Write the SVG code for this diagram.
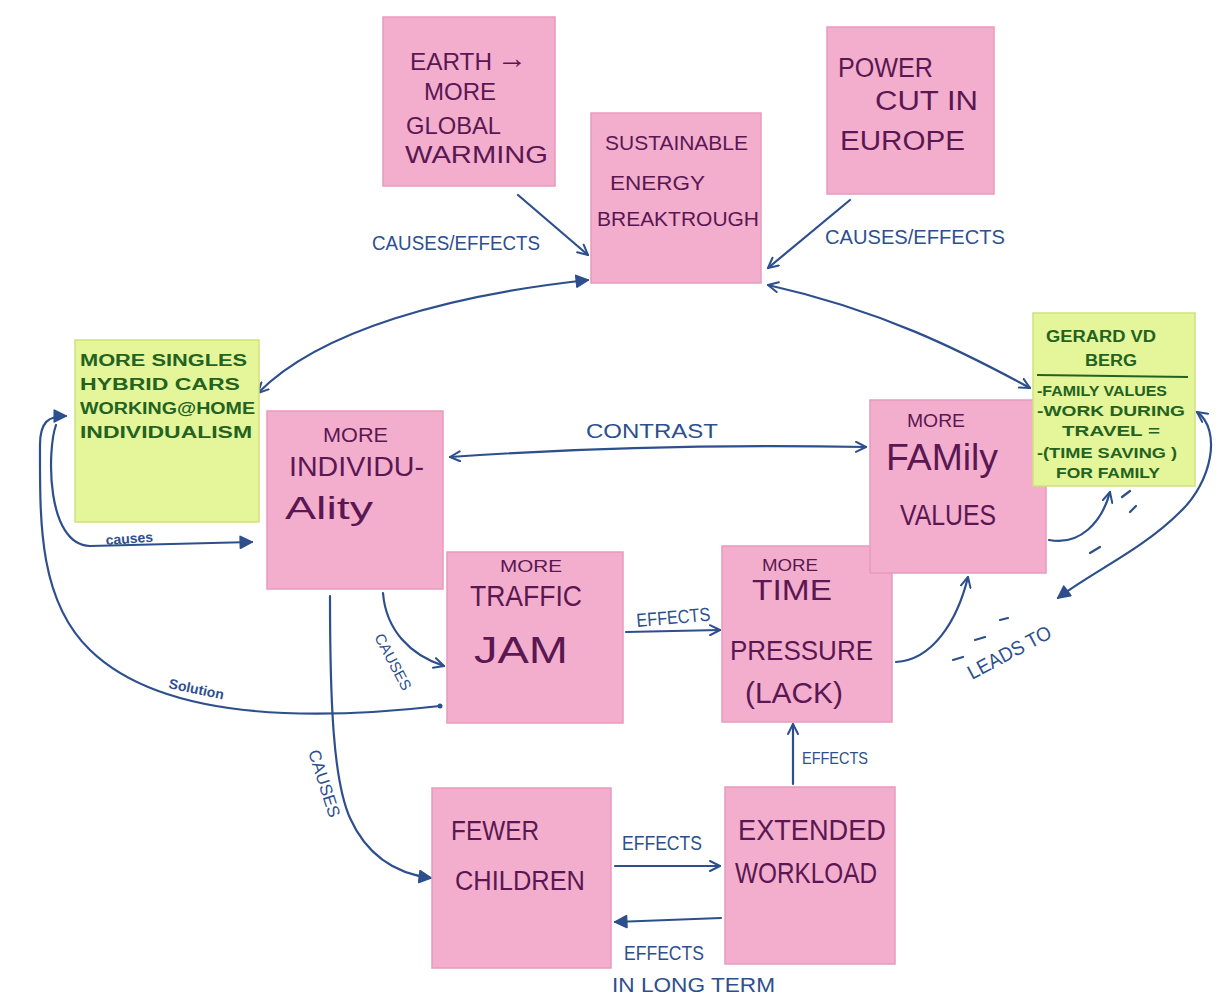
<svg xmlns="http://www.w3.org/2000/svg" width="1231" height="998" viewBox="0 0 1231 998">
<defs>
<style>
.pink{fill:#f3aecd;stroke:#e79bbd;stroke-width:1.5}
.green{fill:#e4f59a;stroke:#cfe27f;stroke-width:1.5}
.pt{font-family:"Liberation Sans",Arial,sans-serif;fill:#5a1752;}
.gt{font-family:"Liberation Sans",Arial,sans-serif;fill:#23621f;font-weight:bold}
.lb{font-family:"Liberation Sans",Arial,sans-serif;fill:#2d4f8e;}
.c{fill:none;stroke:#2d4f8e;stroke-width:2.2;stroke-linecap:round}
</style>
<marker id="ah" viewBox="0 0 12 12" refX="11" refY="6" markerWidth="12" markerHeight="12" markerUnits="userSpaceOnUse" orient="auto-start-reverse">
<path d="M1,1 L11,6 L1,11" fill="none" stroke="#2d4f8e" stroke-width="2" stroke-linecap="round" stroke-linejoin="round"/>
</marker>
<marker id="ahs" viewBox="0 0 12 12" refX="11" refY="6" markerWidth="14" markerHeight="14" markerUnits="userSpaceOnUse" orient="auto-start-reverse">
<path d="M1,1 L11,6 L1,11 Z" fill="#2d4f8e" stroke="#2d4f8e" stroke-width="1.5" stroke-linejoin="round"/>
</marker>
</defs>
<rect width="1231" height="998" fill="#ffffff"/>

<g id="connectors">
<path class="c" d="M518,195 L588,255" marker-end="url(#ah)"/>
<path class="c" d="M850,200 L768,268" marker-end="url(#ah)"/>
<path class="c" d="M258,393 C320,330 450,295 588,280" marker-start="url(#ah)" marker-end="url(#ahs)"/>
<path class="c" d="M768,285 C880,310 960,350 1030,388" stroke-width="1.6" marker-start="url(#ah)" marker-end="url(#ah)"/>
<path class="c" d="M450,457 C550,450 700,444 866,447" marker-start="url(#ah)" marker-end="url(#ah)"/>
<path class="c" d="M56,425 C47,450 46,545 90,546 L252,542" marker-end="url(#ahs)"/>
<path class="c" d="M440,706 C300,722 160,718 90,650 C38,600 40,520 40,445 C40,422 48,416 66,416" marker-end="url(#ahs)"/>
<circle cx="440" cy="706" r="2.5" fill="#2d4f8e"/>
<path class="c" d="M383,593 C386,630 410,655 444,666" marker-end="url(#ah)"/>
<path class="c" d="M330,596 C330,700 333,780 350,818 C368,858 398,874 431,878" marker-end="url(#ahs)"/>
<path class="c" d="M626,632 L720,630" marker-end="url(#ah)"/>
<path class="c" d="M896,662 C932,660 957,622 968,577" stroke-width="1.8" marker-end="url(#ah)"/>
<path class="c" d="M1049,540 C1080,546 1102,522 1110,492" stroke-width="1.8" marker-end="url(#ah)"/>
<path class="c" d="M1197,412 C1222,430 1212,482 1180,512 C1142,550 1092,572 1058,598" marker-start="url(#ah)" marker-end="url(#ahs)"/>
<path class="c" d="M793,784 L793,724" marker-end="url(#ah)"/>
<path class="c" d="M615,866 L720,866" marker-end="url(#ah)"/>
<path class="c" d="M721,918 L615,922" marker-end="url(#ahs)"/>
<g class="c" stroke-width="1.5">
<path d="M1122,497 l8,-6 M1130,512 l6,-6 M1090,553 l10,-6 M1000,620 l8,-2 M975,640 l10,-3 M953,660 l10,-3"/>
</g>
<text class="lb" x="372" y="250" font-size="20" textLength="168" lengthAdjust="spacingAndGlyphs">CAUSES/EFFECTS</text>
<text class="lb" x="825" y="244" font-size="20" textLength="180" lengthAdjust="spacingAndGlyphs">CAUSES/EFFECTS</text>
<text class="lb" x="586" y="438" font-size="20" textLength="132" lengthAdjust="spacingAndGlyphs">CONTRAST</text>
<text class="lb" x="106" y="545" font-size="14" font-weight="bold" transform="rotate(-4 106 545)">causes</text>
<text class="lb" x="168" y="688" font-size="14" font-weight="bold" transform="rotate(12 168 688)">Solution</text>
<text class="lb" x="374" y="637" font-size="15" transform="rotate(62 374 637)">CAUSES</text>
<text class="lb" x="308" y="752" font-size="17" transform="rotate(72 308 752)">CAUSES</text>
<text class="lb" x="637" y="627" font-size="19" textLength="74" lengthAdjust="spacingAndGlyphs" transform="rotate(-5 637 627)">EFFECTS</text>
<text class="lb" x="802" y="764" font-size="17" textLength="66" lengthAdjust="spacingAndGlyphs">EFFECTS</text>
<text class="lb" x="622" y="850" font-size="20" textLength="80" lengthAdjust="spacingAndGlyphs">EFFECTS</text>
<text class="lb" x="624" y="960" font-size="20" textLength="80" lengthAdjust="spacingAndGlyphs">EFFECTS</text>
<text class="lb" x="612" y="992" font-size="21" textLength="163" lengthAdjust="spacingAndGlyphs">IN LONG TERM</text>
<text class="lb" x="972" y="680" font-size="20" textLength="92" lengthAdjust="spacingAndGlyphs" transform="rotate(-28 972 680)">LEADS TO</text>
</g>

<g id="earth">
<rect class="pink" x="383" y="17" width="172" height="169"/>
<text class="pt" font-size="24"><tspan x="410" y="70" textLength="82" lengthAdjust="spacingAndGlyphs">EARTH</tspan><tspan x="497" y="68" font-size="30">→</tspan><tspan x="424" y="100">MORE</tspan><tspan x="406" y="134" textLength="95" lengthAdjust="spacingAndGlyphs">GLOBAL</tspan><tspan x="405" y="163" textLength="143" lengthAdjust="spacingAndGlyphs">WARMING</tspan></text>
</g>

<g id="sustainable">
<rect class="pink" x="591" y="113" width="170" height="170"/>
<text class="pt" font-size="21"><tspan x="605" y="150" textLength="143" lengthAdjust="spacingAndGlyphs">SUSTAINABLE</tspan><tspan x="610" y="190" textLength="95" lengthAdjust="spacingAndGlyphs">ENERGY</tspan><tspan x="597" y="226" textLength="162" lengthAdjust="spacingAndGlyphs">BREAKTROUGH</tspan></text>
</g>

<g id="powercut">
<rect class="pink" x="827" y="27" width="167" height="167"/>
<text class="pt" font-size="27"><tspan x="838" y="77" textLength="95" lengthAdjust="spacingAndGlyphs">POWER</tspan><tspan x="875" y="110" textLength="103" lengthAdjust="spacingAndGlyphs">CUT IN</tspan><tspan x="840" y="150" textLength="125" lengthAdjust="spacingAndGlyphs">EUROPE</tspan></text>
</g>

<g id="greenleft">
<rect class="green" x="75" y="340" width="184" height="182"/>
<text class="gt" font-size="16"><tspan x="80" y="366" textLength="167" lengthAdjust="spacingAndGlyphs">MORE SINGLES</tspan><tspan x="80" y="390" textLength="160" lengthAdjust="spacingAndGlyphs">HYBRID CARS</tspan><tspan x="80" y="414" textLength="175" lengthAdjust="spacingAndGlyphs">WORKING@HOME</tspan><tspan x="80" y="438" textLength="172" lengthAdjust="spacingAndGlyphs">INDIVIDUALISM</tspan></text>
</g>

<g id="individuality">
<rect class="pink" x="267" y="411" width="176" height="178"/>
<text class="pt" font-size="20" x="323" y="442" textLength="65" lengthAdjust="spacingAndGlyphs">MORE</text>
<text class="pt" font-size="27" x="289" y="476" textLength="135" lengthAdjust="spacingAndGlyphs">INDIVIDU-</text>
<text class="pt" font-size="32" x="285" y="519" textLength="88" lengthAdjust="spacingAndGlyphs">Ality</text>
</g>

<g id="traffic">
<rect class="pink" x="447" y="552" width="176" height="171"/>
<text class="pt" font-size="17" x="500" y="572" textLength="62" lengthAdjust="spacingAndGlyphs">MORE</text>
<text class="pt" font-size="30" x="470" y="606" textLength="112" lengthAdjust="spacingAndGlyphs">TRAFFIC</text>
<text class="pt" font-size="36" x="474" y="663" textLength="94" lengthAdjust="spacingAndGlyphs">JAM</text>
</g>

<g id="timepressure">
<rect class="pink" x="722" y="546" width="170" height="176"/>
<text class="pt" font-size="17" x="762" y="571" textLength="56" lengthAdjust="spacingAndGlyphs">MORE</text>
<text class="pt" font-size="30" x="752" y="600" textLength="80" lengthAdjust="spacingAndGlyphs">TIME</text>
<text class="pt" font-size="27" x="730" y="660" textLength="143" lengthAdjust="spacingAndGlyphs">PRESSURE</text>
<text class="pt" font-size="29" x="745" y="703" textLength="98" lengthAdjust="spacingAndGlyphs">(LACK)</text>
</g>

<g id="familyvalues">
<rect class="pink" x="870" y="400" width="176" height="173"/>
<text class="pt" font-size="19" x="907" y="427" textLength="58" lengthAdjust="spacingAndGlyphs">MORE</text>
<text class="pt" font-size="36" x="886" y="470" textLength="112" lengthAdjust="spacingAndGlyphs">FAMily</text>
<text class="pt" font-size="29" x="900" y="525" textLength="96" lengthAdjust="spacingAndGlyphs">VALUES</text>
</g>

<g id="greenright">
<rect class="green" x="1033" y="313" width="162" height="173"/>
<text class="gt" font-size="16" x="1046" y="342" textLength="110" lengthAdjust="spacingAndGlyphs">GERARD VD</text>
<text class="gt" font-size="16" x="1085" y="366" textLength="52" lengthAdjust="spacingAndGlyphs">BERG</text>
<line x1="1037" y1="375" x2="1188" y2="377" stroke="#23621f" stroke-width="2"/>
<text class="gt" font-size="15"><tspan x="1037" y="396" textLength="130" lengthAdjust="spacingAndGlyphs">-FAMILY VALUES</tspan><tspan x="1037" y="416" textLength="148" lengthAdjust="spacingAndGlyphs">-WORK DURING</tspan><tspan x="1062" y="436" textLength="98" lengthAdjust="spacingAndGlyphs">TRAVEL =</tspan><tspan x="1037" y="458" textLength="140" lengthAdjust="spacingAndGlyphs">-(TIME SAVING )</tspan><tspan x="1056" y="478" textLength="104" lengthAdjust="spacingAndGlyphs">FOR FAMILY</tspan></text>
</g>

<g id="fewerchildren">
<rect class="pink" x="432" y="788" width="179" height="180"/>
<text class="pt" font-size="27" x="451" y="840" textLength="88" lengthAdjust="spacingAndGlyphs">FEWER</text>
<text class="pt" font-size="27" x="455" y="890" textLength="130" lengthAdjust="spacingAndGlyphs">CHILDREN</text>
</g>

<g id="extended">
<rect class="pink" x="725" y="787" width="170" height="177"/>
<text class="pt" font-size="30" x="738" y="840" textLength="148" lengthAdjust="spacingAndGlyphs">EXTENDED</text>
<text class="pt" font-size="30" x="735" y="883" textLength="142" lengthAdjust="spacingAndGlyphs">WORKLOAD</text>
</g>
</svg>
